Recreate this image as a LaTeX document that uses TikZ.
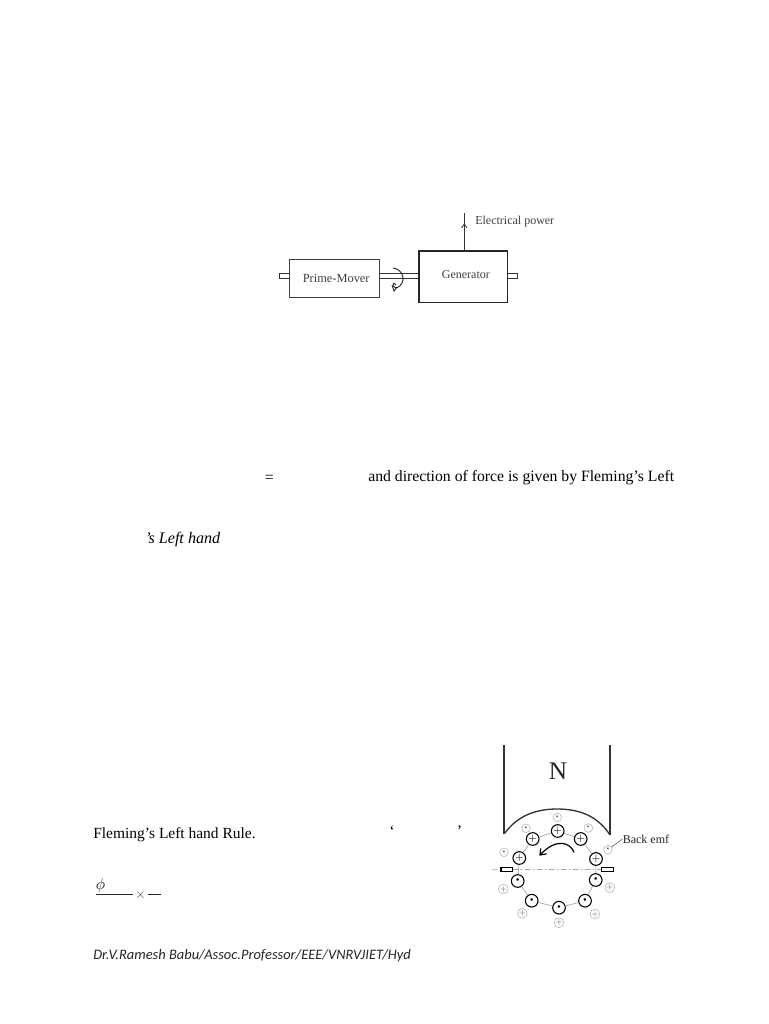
\documentclass[tikz,border=0pt]{standalone}
\usepackage{fontspec}
\setmainfont{Liberation Serif}
\newfontfamily\footerfont{Carlito}
\usetikzlibrary{arrows.meta}

\tikzset{
    blockbox/.style={draw=black!85, line width=0.8pt, fill=white, inner sep=0pt},
    shaftbox/.style={draw=black!80, line width=0.7pt, fill=white, inner sep=0pt},
    bodytext/.style={anchor=west, inner sep=0pt, font=\fontsize{11.8}{13}\selectfont},
    smalltext/.style={inner sep=0pt, text=black!75, font=\fontsize{9}{10}\selectfont},
    cond/.style={circle, draw=black, line width=0.8pt, fill=white, minimum size=9.5pt, inner sep=0pt, font=\fontsize{8}{8}\selectfont},
    ghost/.style={circle, draw=black!30, line width=0.4pt, fill=white, minimum size=6.5pt, inner sep=0pt, text=black!60, font=\fontsize{6}{6}\selectfont},
    brush/.style={rectangle, draw=black, line width=0.9pt, fill=white, minimum width=8.5pt, minimum height=3pt, inner sep=0pt},
    link/.style={black!35, line width=0.5pt},
}

\begin{document}
\begin{tikzpicture}[x=0.75pt, y=-0.75pt]
        \useasboundingbox (0,0) rectangle (768,1024);
        \fill[white] (0,0) rectangle (768,1024);
        % prime mover and generator
        \node[shaftbox, minimum width=8pt, minimum height=3.7pt] (stubleft) at (285,275.8) {};
        \node[shaftbox, minimum width=7.5pt, minimum height=3.7pt] (stubright) at (512.3,275.8) {};
        \node[shaftbox, minimum width=30pt, minimum height=3.7pt] (shaft) at (399,275.8) {};
        \node[blockbox, draw=black!75, line width=0.75pt, minimum width=67.7pt, minimum height=28.5pt, label={[xshift=1.5pt, font=\fontsize{9.3}{10}\selectfont, text=black!75]center:Prime-Mover}] (primemover) at (334.2,278) {};
        \node[blockbox, line width=1pt, minimum width=66.2pt, minimum height=38.8pt, label={[xshift=2pt, yshift=2pt, font=\fontsize{9}{10}\selectfont, text=black!75]center:Generator}] (generator) at (463.2,276.8) {};
        \coordinate (powerend) at (464.3,213);
        \draw[line width=0.6pt, black!80] (generator.north -| powerend) -- (powerend);
        \draw[line width=0.6pt, black!80] (461.5,228) -- (464.3,224) -- (467,228);
        \node[smalltext, anchor=west] (powerlabel) at (475,222) {Electrical power};
        \draw[line width=0.7pt, black!85] (393,268) .. controls (402,269) and (405,279) .. (402,283) .. controls (399,288) and (396,289) .. (393,286) .. controls (392,284) and (394,282) .. (396,285);
        \draw[line width=0.7pt, black!85] (392,285) -- (394,291) -- (397,287);

        % running text
        \node[bodytext] (equals) at (264.5,479) {=};
        \node[bodytext] (forceline) at (368,478) {and direction of force is given by Fleming’s Left};
        \node[bodytext, font=\fontsize{12.1}{14}\selectfont] (ruleitalic) at (145,540) {\itshape ’s Left hand};
        \node[bodytext, font=\fontsize{11.6}{13}\selectfont] (ruleline) at (93,834.5) {Fleming’s Left hand Rule.};
        \node[inner sep=0pt, font=\fontsize{12}{13}\selectfont] (quoteleft) at (392,831) {‘};
        \node[inner sep=0pt, font=\fontsize{12}{13}\selectfont] (quoteright) at (459.5,831) {’};
        \node[inner sep=0pt, font=\fontsize{13}{14}\selectfont] (phi) at (100.5,885) {$\phi$};
        \coordinate (fracleft) at (95.5,894.5);
        \coordinate (fracright) at (133,894.5);
        \draw[line width=0.7pt, black!85] (fracleft) -- (fracright);
        \node[inner sep=0pt, text=black!75, font=\fontsize{10}{11}\selectfont] (timessign) at (140.5,895) {$\times$};
        \coordinate (dashleft) at (148,894.5);
        \coordinate (dashright) at (160.5,894.5);
        \draw[line width=0.7pt, black!85] (dashleft) -- (dashright);
        \node[bodytext, text=black!85, font=\footerfont\itshape\fontsize{10.85}{12}\selectfont] (footer) at (93,956) {Dr.V.Ramesh Babu/Assoc.Professor/EEE/VNRVJIET/Hyd};

        % pole
        \draw[line width=1pt, black!80] (504,745) -- (504,834);
        \draw[line width=1pt, black!80] (610,745) -- (610,835);
        \draw[line width=1pt, black!80] (505,833) .. controls (518,815) and (537,809) .. (557,809) .. controls (578,809) and (597,815) .. (610,835);
        \node[inner sep=0pt, text=black!85, font=\fontsize{19}{21}\selectfont] (polen) at (558,771) {N};

        % conductors
        \foreach \name/\xpos/\ypos/\mark in {g1/557.3/817.3/\textbullet, g2/526/828.3/\textbullet, g3/588.3/828/\textbullet, g4/504/852.3/\textbullet, g5/608/849.7/\textbullet, g6/503.3/889/$+$, g7/609.7/887.7/$+$, g8/522.3/913.3/$+$, g9/595/914/$+$, g10/559/922.7/$+$}
            \node[ghost] (\name) at (\xpos,\ypos) {\mark};
        \coordinate (axisleft) at (492,869.7);
        \node[brush] (brushleft) at (506.7,869.5) {};
        \node[brush] (brushright) at (607.5,869.5) {};
        \foreach \name/\xpos/\ypos in {p1/519.3/858, p2/532.7/839, p3/557.7/831, p4/580.7/839, p5/596/859}
            \node[cond] (\name) at (\xpos,\ypos) {$+$};
        \foreach \name/\xpos/\ypos in {d1/517.7/881, d2/531.7/900.7, d3/559/907.7, d4/585/900.7, d5/595.7/880}
            \node[cond] (\name) at (\xpos,\ypos) {\textbullet};
        \draw[link] (p1) -- (p2) -- (p3) -- (p4) -- (p5);
        \draw[link] (d1) -- (d2) -- (d3) -- (d4) -- (d5);
        \draw[link] (p5) -- (d5);
        \draw[link] (p1) -- (d1);
        \draw[link, dash pattern=on 4pt off 2pt on 1pt off 2pt] (axisleft) -- (brushleft) (brushleft) -- (brushright);
        \node[inner sep=0pt, text=black!85, font=\fontsize{9}{10}\selectfont, anchor=west] (backemf) at (622.5,839) {Back emf};
        \draw[line width=0.5pt, black!60] (g5) -- (backemf.west);

        % rotation
        \draw[line width=0.9pt, -{Straight Barb[length=4pt,width=6pt]}] (574,852.3) .. controls (570,842) and (556,838) .. (539.3,855.7);
    \end{tikzpicture}
\end{document}
